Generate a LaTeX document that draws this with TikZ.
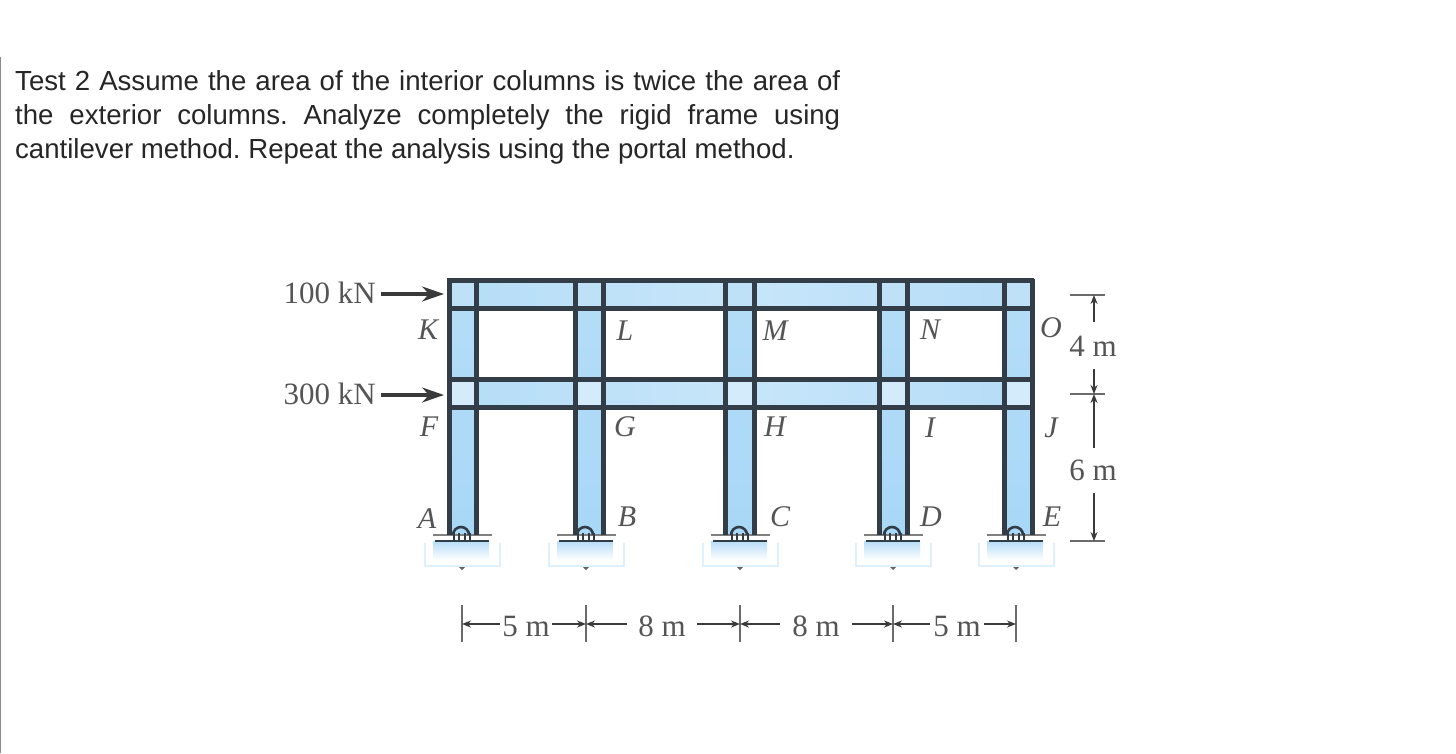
\documentclass[tikz,border=0pt]{standalone}
\usepackage{fontspec}
\setmainfont{Liberation Serif}
\newfontfamily\sansfnt{Liberation Sans}
\usetikzlibrary{arrows.meta}
\definecolor{steel}{HTML}{333D47}
\definecolor{bluemid}{HTML}{B5DDF7}
\definecolor{bluelow}{HTML}{A8D8F7}
\definecolor{bluelite}{HTML}{D3EBFB}
\definecolor{dimgr}{HTML}{3A3A3A}
\definecolor{txtgr}{HTML}{555555}
\tikzset{
  x=1pt,y=-1pt,
  prob/.style={font=\sansfnt\fontsize{27.6}{34}\selectfont\frenchspacing,anchor=base west,inner sep=0pt,text=black!85},
  lett/.style={font=\fontsize{30}{30}\selectfont\itshape,text=txtgr,inner sep=0pt},
  dimtxt/.style={font=\fontsize{31}{31}\selectfont,text=txtgr,inner sep=1pt},
  loadtxt/.style={font=\fontsize{31}{31}\selectfont,text=txtgr,inner sep=0pt,anchor=base east},
  steelln/.style={draw=steel,line width=5pt},
  tick/.style={draw=dimgr!75,line width=2.6pt},
  dimln/.style={draw=dimgr,line width=2pt,-{Stealth[length=9pt,width=7pt]}},
  load/.style={draw=dimgr,line width=3.4pt,-{Stealth[length=22pt,width=15pt]}},
}
\begin{document}
\begin{tikzpicture}
\useasboundingbox (0,0) rectangle (1456,753);
\fill[white] (0,0) rectangle (1456,753);
\draw[black!45,line width=1.2pt] (0.6,57) -- (0.6,753);

\node[prob] (l1) at (15,90) {\makebox[825pt][s]{Test 2 Assume the area of the interior columns is twice the area of}};
\node[prob] (l2) at (15,124) {\makebox[825pt][s]{the exterior columns. Analyze completely the rigid frame using}};
\node[prob] (l3) at (15,158) {cantilever method. Repeat the analysis using the portal method.};

% member fills
\foreach \ya/\yb in {279/310,378/409}{
  \shade[left color=bluemid,right color=bluemid,middle color=bluelite!60!bluemid] (447,\ya) rectangle (1034,\yb);
}
\foreach \xa/\xb in {449/477,575/604,725/756,879/908,1004/1033}{
  \shade[top color=bluemid,bottom color=bluelow] (\xa,279) rectangle (\xb,535);
  \fill[bluelite] (\xa,381) rectangle (\xb,407);
  \fill[bluemid!70!bluelite] (\xa,282) rectangle (\xb,307);
}
% support bases
\foreach \c in {462,586,740,893,1016}{
  \shade[top color=bluemid,bottom color=white] (\c-29,541) rectangle (\c+27,560);
  \draw[steel,line width=1.6pt] (\c-27,541) -- (\c+27,541);
  \draw[bluemid!45,line width=1.6pt] (\c-37,543) -- (\c-37,566) -- (\c+38,566) -- (\c+38,543);
  \fill[steel!80] (\c-3,567) -- (\c+3,567) -- (\c,570) -- cycle;
  \draw[black!50,line width=1.5pt] (\c-29,535) -- (\c+30,535);
  \draw[steel,line width=2.6pt] (\c-9,535) arc[start angle=180,end angle=0,radius=8pt];
  \foreach \d in {-8,-3,3,8}{\draw[steel,line width=1.2pt] (\c+\d,533) -- (\c+\d,541);}
}
% columns
\foreach \x in {449.5,476.5,575.5,603,725.5,754.5,879.5,907.5,1004.5,1032}{
  \draw[steelln] (\x,279) -- (\x,535);
}
% beams
\foreach \y in {280.5,308,379.5,407.5}{
  \draw[steelln] (447,\y) -- (1034,\y);
}

% loads
\node[loadtxt] (p1) at (376,303.5) {100 kN};
\node[loadtxt] (p2) at (376,404) {300 kN};
\coordinate (k1) at (444,294);
\coordinate (k2) at (444,395);
\draw[load] (381,294) -- (k1);
\draw[load] (381,395) -- (k2);

% letters
\foreach \n/\t/\x/\y in {
  K/K/428/330, L/L/625/331, M/M/775/331, N/N/930/330, O/O/1051/328,
  F/F/429/427, G/G/625/427, H/H/775/427, I/I/930/428, J/J/1051/428,
  A/A/427/519, B/B/627/517, C/C/780/517, D/D/931/517, E/E/1052/517}{
  \node[lett] (\n) at (\x,\y) {\t};
}

% horizontal dimensions
\foreach \c/\n in {462/b0,586/b1,740/b2,893/b3,1016/b4}{
  \coordinate (\n) at (\c,624);
  \draw[tick] (\c,605) -- (\c,642);
}
\node[dimtxt] (s1) at (526,626) {5 m};
\node[dimtxt] (s2) at (662,626) {8 m};
\node[dimtxt] (s3) at (816,626) {8 m};
\node[dimtxt] (s4) at (957,626) {5 m};
\draw[dimln] (500,624) -- (b0);
\draw[dimln] (552,624) -- (b1);
\draw[dimln] (627,624) -- (b1);
\draw[dimln] (697,624) -- (b2);
\draw[dimln] (780,624) -- (b2);
\draw[dimln] (852,624) -- (b3);
\draw[dimln] (930,624) -- (b3);
\draw[dimln] (984,624) -- (b4);

% vertical dimensions
\foreach \y/\n in {295/v0,394/v1,541/v2}{
  \coordinate (\n) at (1094,\y);
  \draw[tick] (1070,\y) -- (1105,\y);
}
\node[dimtxt] (h1) at (1093,346) {4 m};
\node[dimtxt] (h2) at (1093,470) {6 m};
\draw[dimln] (1094,322) -- (v0);
\draw[dimln] (1094,369) -- (v1);
\draw[dimln] (1094,448) -- (v1);
\draw[dimln] (1094,493) -- (v2);
\end{tikzpicture}
\end{document}
